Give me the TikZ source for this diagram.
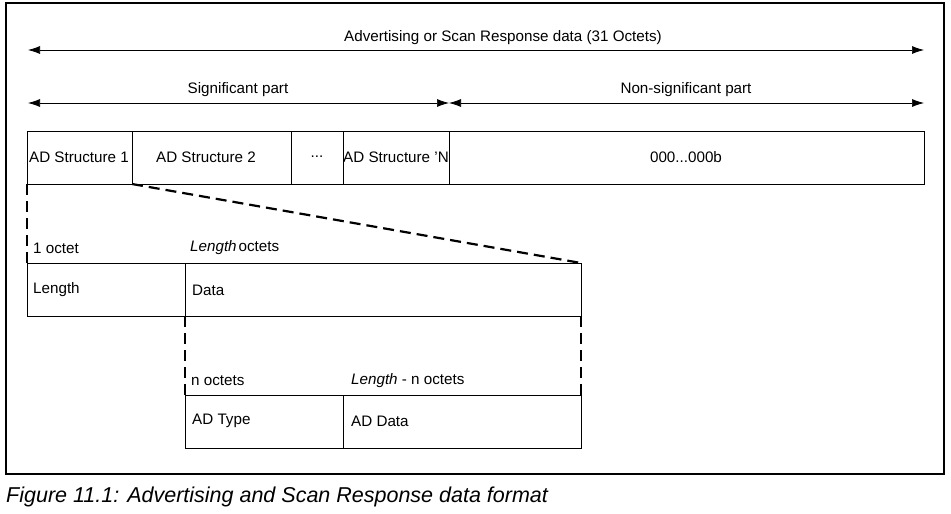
\documentclass[tikz,border=0pt]{standalone}
\usepackage{fontspec}
\setmainfont{Liberation Sans}
\usetikzlibrary{arrows.meta}
\begin{document}
\begin{tikzpicture}[x=1pt,y=-1pt,
  lbl/.style={font=\fontsize{15.2}{17}\selectfont,inner sep=0pt},
  arr/.style={{Latex[length=12pt,width=8pt]}-{Latex[length=12pt,width=8pt]},line width=0.7pt},
  cell/.style={draw,line width=0.7pt},
  dsh/.style={line width=2.2pt,dash pattern=on 11pt off 6pt}]
\useasboundingbox (0,0) rectangle (951,514);
\draw[line width=1.8pt] (6,3) rectangle (944,474);
\node[lbl,anchor=west,font=\fontsize{21.5}{24}\selectfont\itshape] (cap) at (6,497) {Figure 11.1:  Advertising and Scan Response data format};
% arrows
\coordinate (a1) at (28,50); \coordinate (a2) at (924,50);
\draw[arr] (a1) -- (a2);
\node[lbl] (t1) at (503,38) {Advertising or Scan Response data (31 Octets)};
\coordinate (b1) at (28,103); \coordinate (b2) at (449,103); \coordinate (b3) at (924,103);
\draw[arr] (b1) -- (b2);
\draw[arr] (b2) -- (b3);
\node[lbl] (t2) at (238,90) {Significant part};
\node[lbl] (t3) at (686,90) {Non-significant part};
% row 1
\draw[cell] (27,131) rectangle (924,184);
\foreach \x in {132,291,343,449} \draw[cell] (\x,131) -- (\x,184);
\node[lbl] (r1) at (79,157) {AD Structure 1};
\node[lbl] (r2) at (206,157) {AD Structure 2};
\node[lbl] (r3) at (317,157) {...};
\node[lbl] (r4) at (396,157) {AD Structure 'N};
\node[lbl] (r5) at (686,157) {000...000b};
% dashed
\coordinate (d1) at (27,184); \coordinate (d2) at (27,263);
\coordinate (d3) at (132,184); \coordinate (d4) at (581,263);
\draw[dsh] (d1) -- (d2);
\draw[dsh] (d3) -- (d4);
% row 2
\draw[cell] (27,263) rectangle (581,316);
\draw[cell] (185,263) -- (185,316);
\node[lbl,anchor=west] (s0) at (33,248) {1 octet};
\node[lbl,anchor=west] (s1) at (190,248) {\itshape Length\upshape\kern2pt octets};
\node[lbl,anchor=west] (s2) at (33,290) {Length};
\node[lbl,anchor=west] (s3) at (192,290) {Data};
\coordinate (e1) at (185,316); \coordinate (e2) at (185,395);
\coordinate (e3) at (581,316); \coordinate (e4) at (581,395);
\draw[dsh] (e1) -- (e2);
\draw[dsh] (e3) -- (e4);
% row 3
\draw[cell] (185,395) rectangle (581,448);
\draw[cell] (343,395) -- (343,448);
\node[lbl,anchor=west] (u0) at (191,381) {n octets};
\node[lbl,anchor=west] (u1) at (351,381) {\itshape Length\upshape\ - n octets};
\node[lbl,anchor=west] (u2) at (192,421) {AD Type};
\node[lbl,anchor=west] (u3) at (351,421) {AD Data};
\end{tikzpicture}
\end{document}
